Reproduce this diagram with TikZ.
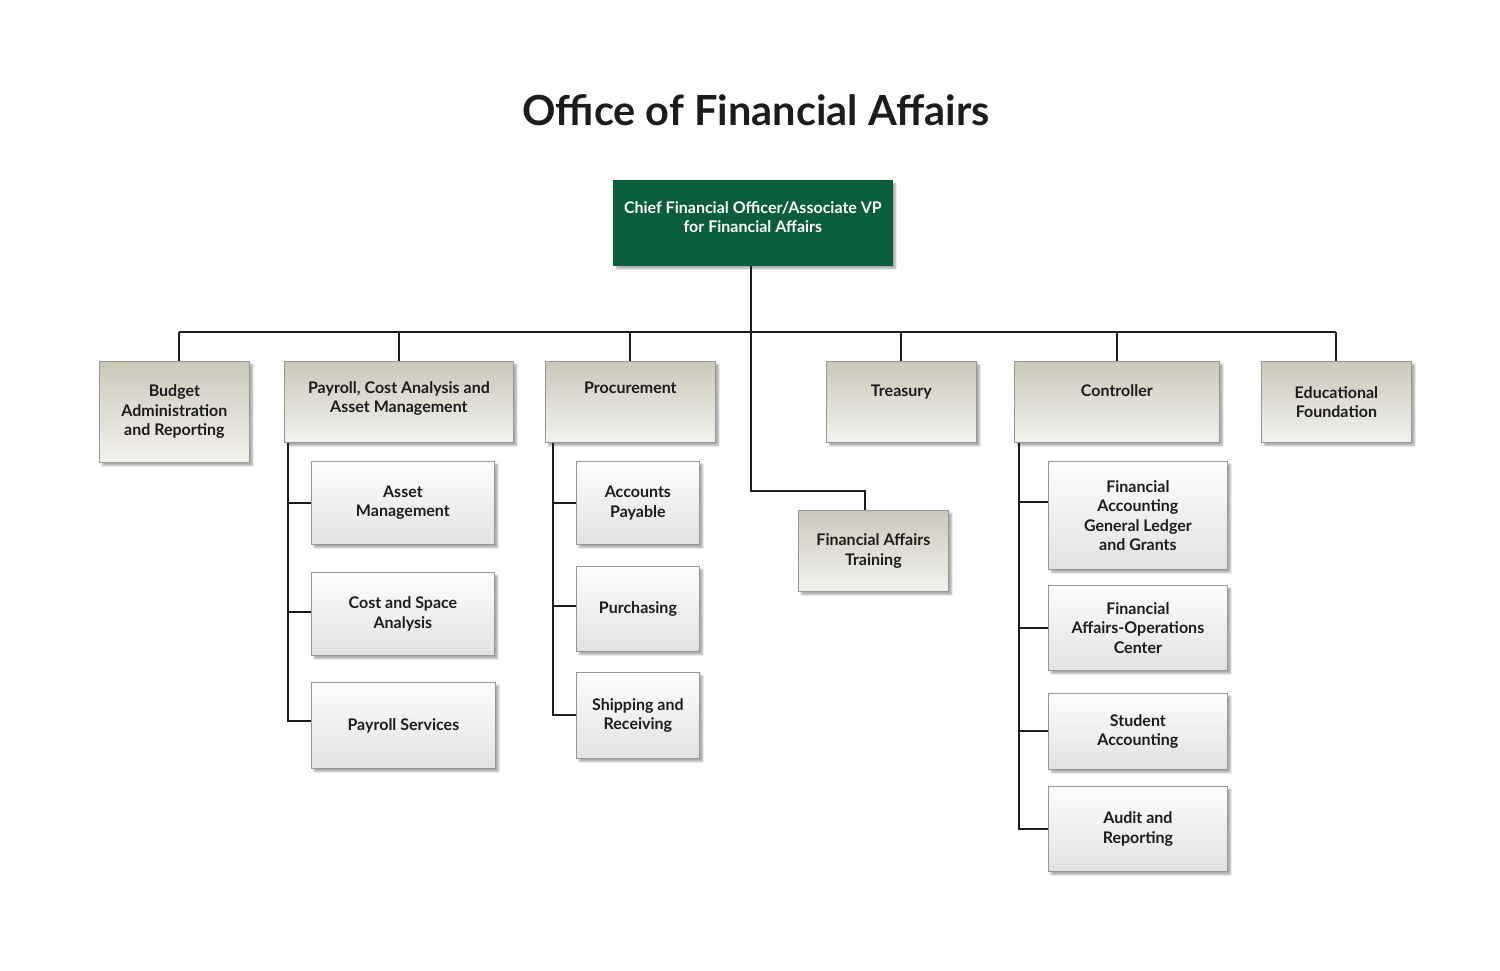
\documentclass[tikz,border=0pt]{standalone}
\usepackage{fontspec}
\setmainfont{Lato}
\usetikzlibrary{shadows.blur}
\definecolor{cfogreen}{RGB}{11,94,60}
\definecolor{beigeT}{RGB}{203,201,184}
\definecolor{beigeB}{RGB}{243,242,237}
\definecolor{greyT}{RGB}{253,253,253}
\definecolor{greyB}{RGB}{226,226,226}
\definecolor{edgegrey}{RGB}{150,150,150}
\definecolor{ink}{RGB}{30,27,28}
\tikzset{
  basebox/.style={draw=edgegrey, line width=0.8pt, inner sep=0pt, anchor=north west,
    align=center, font=\fontsize{16}{19.5}\selectfont\bfseries, text=ink,
    blur shadow={shadow xshift=3pt, shadow yshift=-3pt, shadow blur steps=4, shadow blur radius=2pt, shadow opacity=35}},
  unitbox/.style={basebox, top color=beigeT, bottom color=beigeB},
  subbox/.style={basebox, top color=greyT, bottom color=greyB},
  headbox/.style={basebox, fill=cfogreen, draw=cfogreen, text=white},
  link/.style={draw=ink, line width=1.9pt},
}
\begin{document}
\begin{tikzpicture}[x=1pt,y=-1pt]
\useasboundingbox (0,0) rectangle (1500,971);
\node[font=\fontsize{41.5}{48}\selectfont\bfseries, text=ink] (title) at (756,110) {Office of Financial Affairs};

\node[headbox, minimum width=279pt, minimum height=85pt, text depth=12pt] (cfo) at (613,180) {Chief Financial Officer/Associate VP\\for Financial Affairs};

% top row
\node[unitbox, minimum width=150pt, minimum height=101pt] (budget) at (99,361) {Budget\\Administration\\and Reporting};
\node[unitbox, minimum width=229pt, minimum height=81pt, text depth=10pt] (payroll) at (284,361) {Payroll, Cost Analysis and\\Asset Management};
\node[unitbox, minimum width=170pt, minimum height=81pt, text depth=28pt] (proc) at (545,361) {Procurement};
\node[unitbox, minimum width=150pt, minimum height=81pt, text depth=22pt] (treas) at (826,361) {Treasury};
\node[unitbox, minimum width=205pt, minimum height=81pt, text depth=22pt] (ctrl) at (1014,361) {Controller};
\node[unitbox, minimum width=150pt, minimum height=81pt] (edu) at (1261,361) {Educational\\Foundation};
\node[unitbox, minimum width=150pt, minimum height=81pt] (train) at (798,510) {Financial Affairs\\Training};

% payroll children
\node[subbox, minimum width=183pt, minimum height=83pt] (asset) at (311,461) {Asset\\Management};
\node[subbox, minimum width=183pt, minimum height=83pt] (cost) at (311,572) {Cost and Space\\Analysis};
\node[subbox, minimum width=184pt, minimum height=86pt] (paysvc) at (311,682) {Payroll Services};

% procurement children
\node[subbox, minimum width=123pt, minimum height=83pt] (ap) at (576,461) {Accounts\\Payable};
\node[subbox, minimum width=123pt, minimum height=85pt] (purch) at (576,566) {Purchasing};
\node[subbox, minimum width=123pt, minimum height=86pt] (ship) at (576,672) {Shipping and\\Receiving};

% controller children
\node[subbox, minimum width=179pt, minimum height=108pt] (fagl) at (1048,461) {Financial\\Accounting\\General Ledger\\and Grants};
\node[subbox, minimum width=179pt, minimum height=85pt] (faops) at (1048,585) {Financial\\Affairs-Operations\\Center};
\node[subbox, minimum width=179pt, minimum height=76pt] (stud) at (1048,693) {Student\\Accounting};
\node[subbox, minimum width=179pt, minimum height=85pt] (audit) at (1048,786) {Audit and\\Reporting};

% connectors
\coordinate (bus) at (0,332);
\coordinate (tbus) at (0,491);
\draw[link] ([xshift=5pt]budget.north |- bus) -- (edu.north |- bus);
\draw[link] ([xshift=-2pt]cfo.south) -- ([xshift=-2pt]cfo.south |- tbus) -| ([xshift=-8pt]train.north);
\draw[link] ([xshift=5pt]budget.north |- bus) -- ([xshift=5pt]budget.north);
\draw[link] (payroll.north |- bus) -- (payroll.north);
\draw[link] (proc.north |- bus) -- (proc.north);
\draw[link] (treas.north |- bus) -- (treas.north);
\draw[link] (ctrl.north |- bus) -- (ctrl.north);
\draw[link] (edu.north |- bus) -- (edu.north);

\draw[link] ([xshift=4pt]payroll.south west) |- (asset.west);
\draw[link] ([xshift=4pt]payroll.south west) |- ([yshift=2pt]cost.west);
\draw[link] ([xshift=4pt]payroll.south west) |- ([yshift=4pt]paysvc.west);

\draw[link] ([xshift=8pt]proc.south west) |- (ap.west);
\draw[link] ([xshift=8pt]proc.south west) |- ([yshift=3pt]purch.west);
\draw[link] ([xshift=8pt]proc.south west) |- (ship.west);

\draw[link] ([xshift=5pt]ctrl.south west) |- ([yshift=13pt]fagl.west);
\draw[link] ([xshift=5pt]ctrl.south west) |- (faops.west);
\draw[link] ([xshift=5pt]ctrl.south west) |- (stud.west);
\draw[link] ([xshift=5pt]ctrl.south west) |- (audit.west);
\end{tikzpicture}
\end{document}
